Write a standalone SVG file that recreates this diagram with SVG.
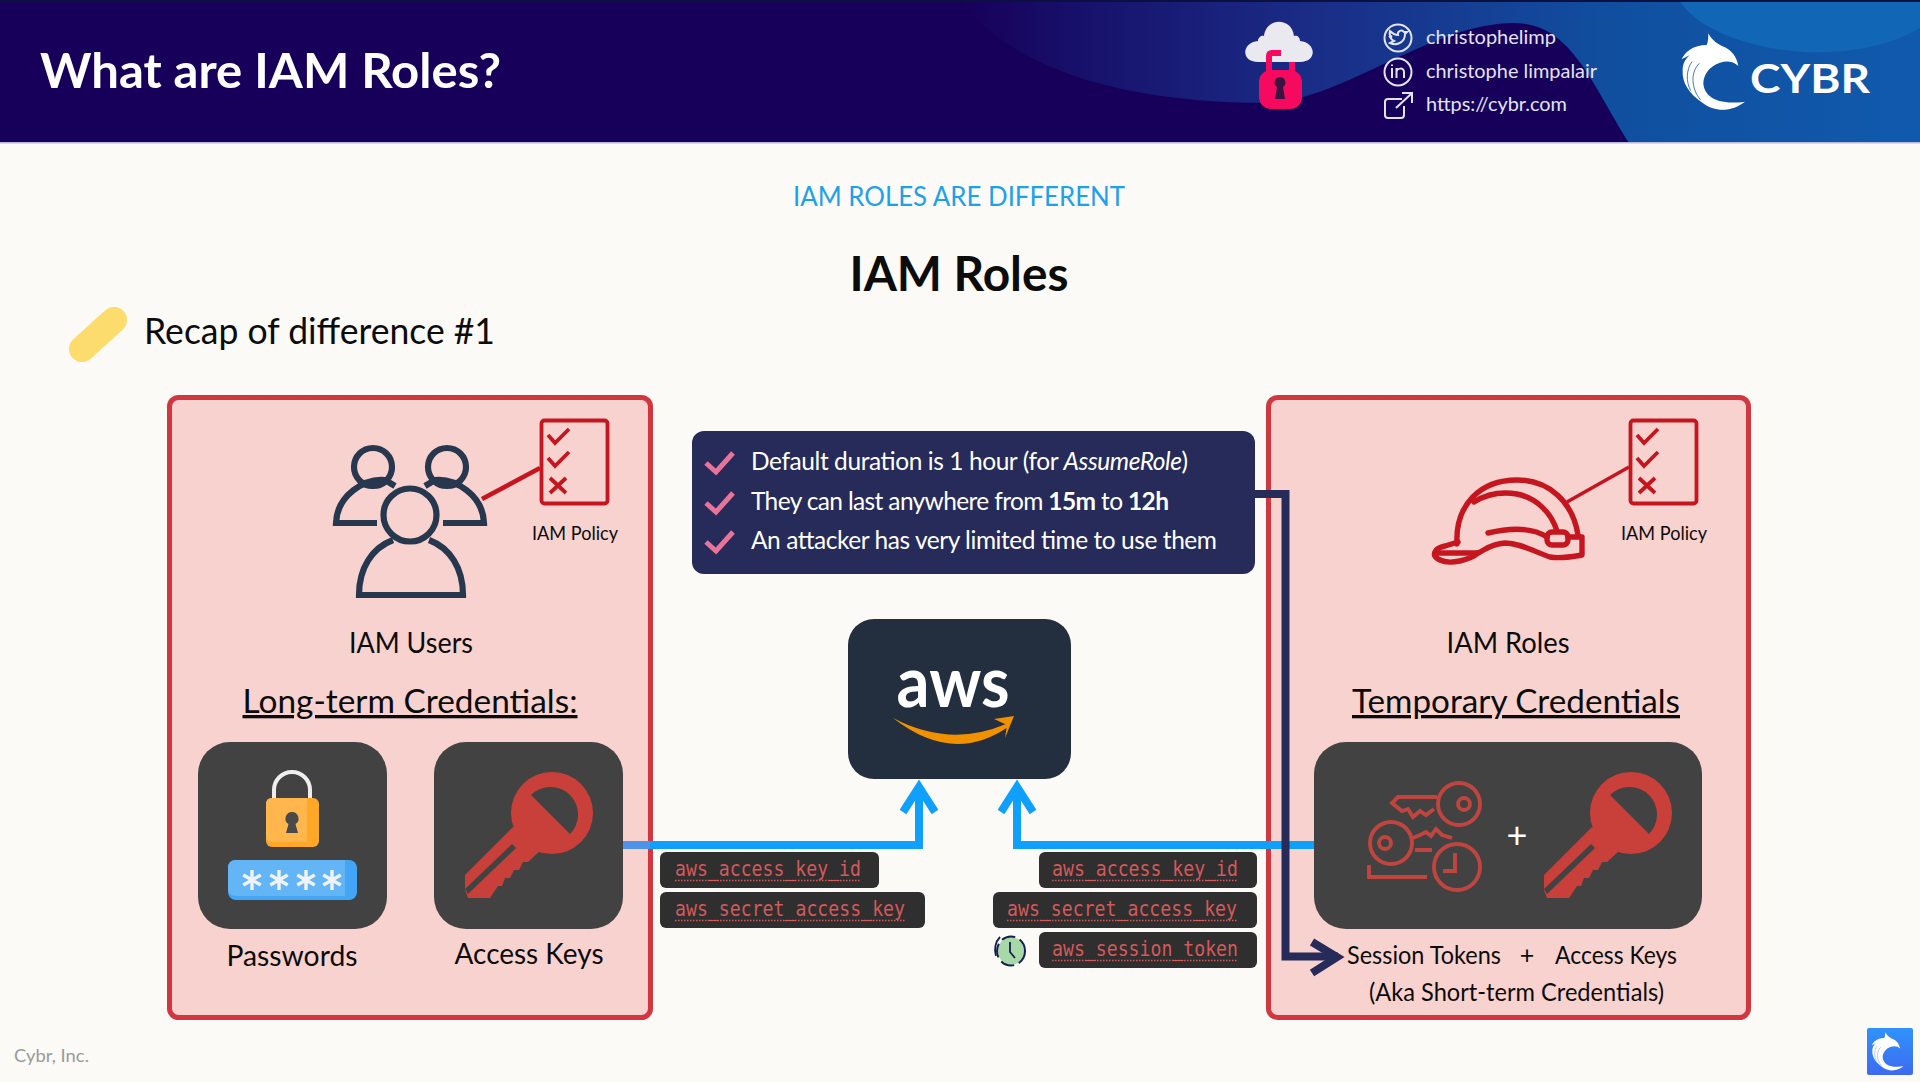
<svg xmlns="http://www.w3.org/2000/svg" width="1920" height="1082" viewBox="0 0 1920 1082">
<style>
text{font-family:"Lato","Noto Sans",sans-serif;fill:#0c0c0c}
.panel{fill:#f7d2ce;stroke:#d2363f;stroke-width:5}
.dark{fill:#424242}
.chip{fill:#2f2f2f}
.tok{font-family:"DejaVu Sans Mono","Liberation Mono",monospace;font-size:21px;fill:#d4595b}
.dots{fill:none;stroke:#d4595b;stroke-width:1.500;stroke-dasharray:1.500 1.500}
.pol{fill:none;stroke:#c5161f;stroke-width:3.800}
.ptick{fill:none;stroke:#c5161f;stroke-width:3.800}
.usr{fill:none;stroke:#27384e;stroke-width:6.200}
.hat{fill:none;stroke:#c5161f;stroke-width:5.400;stroke-linejoin:round;stroke-linecap:round}
.mk{fill:none;stroke:#c0453f;stroke-width:3.900}
.pc{fill:none;stroke:#e8749a;stroke-width:5}
.info{fill:#fff;font-size:24.500px}
.soc{fill:#e2e3f4;font-size:20px}
.ico{fill:none;stroke:#e2e3f4;stroke-width:2}
.blue{fill:none;stroke:#0ea0fb;stroke-width:8}
.navy{fill:none;stroke:#262b5a;stroke-width:8}
.u{text-decoration:underline}
</style>
<defs>
<linearGradient id="hg" x1="960" x2="1920" y1="0" y2="0" gradientUnits="userSpaceOnUse"><stop offset="0" stop-color="#17005a"/><stop offset=".12" stop-color="#17106a"/><stop offset=".36" stop-color="#1a2c86"/><stop offset=".68" stop-color="#104f9f"/><stop offset="1" stop-color="#105aad"/></linearGradient>
<linearGradient id="fg" x1="0" x2="0" y1="0" y2="1"><stop offset="0" stop-color="#2f93fb"/><stop offset="1" stop-color="#3d6af0"/></linearGradient>
<g id="ticks"><path class="ptick" d="M548 435L555 443L569 429M548 458L555 466L569 452M550 478L566 493M566 478L550 493"/></g>
<g id="bigkey">
<circle cx="552" cy="813" r="41" fill="#c9403a"/>
<path fill="#c9403a" d="M513 827L465 875V890L468 898H490L498 886H502L505 878H510L514 870H519L523 862H528L540 851Z"/>
<path class="dark" d="M531 795A27 27 0 0 1 570 834Z"/>
<path class="dark" d="M512 844L516 848L468 894L465 889Z"/>
</g>
<g id="phoenix" transform="translate(1670 20) scale(.3333)">
<path fill="#fff" d="M115 40C125 60 145 75 165 82C185 92 200 110 205 138C190 124 170 122 150 128C118 138 100 165 100 190C102 225 135 258 225 245C190 272 140 282 95 247C60 222 35 190 38 150C38 132 45 117 60 105L35 118C45 95 70 75 110 75C115 65 115 50 115 40Z"/>
<path fill="none" stroke="currentColor" stroke-width="2.400" d="M88 130C62 155 62 205 92 240M66 125C48 150 48 185 62 212"/>
</g>
<g id="star"><path stroke="#f0f3f7" stroke-width="3.400" fill="none" d="M0 -10V10M-8.700 -5L8.700 5M-8.700 5L8.700 -5"/></g>
</defs>

<rect id="page" width="1920" height="1082" fill="#fbfaf6"/>

<g id="header">
<rect width="1920" height="143" fill="url(#hg)"/>
<path fill="#17005a" d="M0 0H960C1020 80 1150 103 1264 103C1340 103 1430 23 1514 23C1570 23 1590 80 1629 143H0Z"/>
<path fill="#1166b6" d="M1679 0C1700 35 1770 55 1830 52C1870 50 1900 40 1920 28V0Z"/>
<rect width="1920" height="2" fill="#0c1040"/>
<rect y="142" width="1920" height="1.500" fill="#b9b8d6"/>
<text x="40" y="88" font-size="48" font-weight="700" style="fill:#fff" textLength="461" lengthAdjust="spacingAndGlyphs">What are IAM Roles?</text>
<g id="cloud-lock">
<path fill="#e9e9ef" d="M1258 62C1240 62 1242 42 1258 41C1258 37 1262 35 1264 36C1266 17 1292 17 1294 36C1297 35 1300 37 1300 41C1316 42 1318 62 1300 62Z"/>
<path fill="none" stroke="#f50a5f" stroke-width="6" d="M1269 75V56Q1269 53 1272 53H1281M1292 62V75"/>
<rect x="1259" y="70" width="43" height="39" rx="12" fill="#f50a5f"/>
<path fill="#3a1440" d="M1280 77a5.500 5.500 0 0 1 3 10l2 12h-10l2 -12a5.500 5.500 0 0 1 3 -10Z"/>
</g>
<g id="social">
<circle class="ico" cx="1398" cy="38" r="13.500"/>
<path class="ico" stroke-width="1.600" d="M1390 43C1396 46 1405 43 1405 34L1407 32L1404 32C1402 29 1397 31 1398 35C1395 35 1392 33 1390 31C1389 34 1390 36 1392 37L1390 37C1391 39 1392 40 1394 41Z"/>
<text class="soc" x="1426" y="44" textLength="130" lengthAdjust="spacingAndGlyphs">christophelimp</text>
<circle class="ico" cx="1398" cy="72" r="13.500"/>
<path class="ico" stroke-width="2.600" d="M1392 68V78M1392 64.500V66M1396.500 78V68M1396.500 72C1396.500 68 1404 67 1404 72V78"/>
<text class="soc" x="1426" y="78" textLength="171" lengthAdjust="spacingAndGlyphs">christophe limpalair</text>
<path class="ico" d="M1402 99H1388Q1385 99 1385 102V115Q1385 118 1388 118H1401Q1404 118 1404 115V106M1396 108L1411 94M1402 93H1412V103"/>
<text class="soc" x="1426" y="111" textLength="141" lengthAdjust="spacingAndGlyphs">https://cybr.com</text>
</g>
<g id="logo" color="#1058aa">
<use href="#phoenix"/>
<text x="1750" y="93" font-size="40" font-weight="700" style="fill:#fff" textLength="120" lengthAdjust="spacingAndGlyphs">CYBR</text>
</g>
</g>

<text id="kicker" x="959" y="205.500" text-anchor="middle" font-size="26" style="fill:#1ea1ea" textLength="332" lengthAdjust="spacingAndGlyphs">IAM ROLES ARE DIFFERENT</text>
<text id="title" x="959" y="291" text-anchor="middle" font-size="48" font-weight="700" textLength="219" lengthAdjust="spacingAndGlyphs">IAM Roles</text>
<g id="recap">
<path d="M82 349L114 320" stroke="#fddc6e" stroke-width="26" stroke-linecap="round"/>
<text x="144" y="344" font-size="36" textLength="351" lengthAdjust="spacingAndGlyphs">Recap of difference #1</text>
</g>

<g id="users-panel">
<rect class="panel" x="169.500" y="397.500" width="481" height="620" rx="9"/>
<g id="users-icon">
<circle class="usr" cx="373" cy="467" r="19"/><circle class="usr" cx="447" cy="467" r="19"/>
<path class="usr" d="M395 486L385 480C365 478 337 495 336 523H377M425 486L435 480C455 478 483 495 484 523H443"/>
<circle class="usr" cx="410" cy="515" r="26.500"/>
<path class="usr" d="M393 540C372 548 359 568 359 595H463C463 568 450 548 429 540"/>
</g>
<g id="users-policy">
<rect class="pol" x="541.500" y="420.500" width="66" height="83" rx="3"/>
<use href="#ticks"/>
<path d="M482 499L540 468" stroke="#c5161f" stroke-width="4.600"/>
<text x="575" y="540" text-anchor="middle" font-size="19" textLength="86" lengthAdjust="spacingAndGlyphs">IAM Policy</text>
</g>
<text x="411" y="653" text-anchor="middle" font-size="29" textLength="124" lengthAdjust="spacingAndGlyphs">IAM Users</text>
<text class="u" x="410" y="713" text-anchor="middle" font-size="33" textLength="335" lengthAdjust="spacingAndGlyphs">Long-term Credentials:</text>
<g id="passwords">
<rect class="dark" x="198" y="742" width="189" height="187" rx="32"/>
<path fill="none" stroke="#eeeeee" stroke-width="4" d="M274 798V790A18 18 0 0 1 310 790V798"/>
<rect x="266" y="798" width="53" height="49" rx="6" fill="#ffa726"/>
<path fill="#ffb74d" d="M272 798H307V842H272Q266 842 266 836V804Q266 798 272 798Z"/>
<path fill="#4a4a4a" d="M292 812a6.500 6.500 0 0 1 3.500 12l2.500 9h-12l2.500 -9a6.500 6.500 0 0 1 3.500 -12Z"/>
<rect x="228" y="860" width="129" height="40" rx="8" fill="#42a5f5"/>
<path fill="#64b5f6" d="M236 860H345V896H236Q228 896 228 888V868Q228 860 236 860Z"/>
<use href="#star" x="252" y="880"/><use href="#star" x="279" y="880"/><use href="#star" x="306" y="880"/><use href="#star" x="332" y="880"/>
<text x="292" y="965.500" text-anchor="middle" font-size="29" textLength="131" lengthAdjust="spacingAndGlyphs">Passwords</text>
</g>
<g id="access-keys">
<rect class="dark" x="434" y="742" width="189" height="187" rx="32"/>
<use href="#bigkey"/>
<text x="529" y="964" text-anchor="middle" font-size="29" textLength="149" lengthAdjust="spacingAndGlyphs">Access Keys</text>
</g>
</g>

<g id="roles-panel">
<rect class="panel" x="1268.500" y="397.500" width="480" height="620" rx="9"/>
<g id="hat-icon">
<path class="hat" d="M1457 544C1455 505 1480 480 1517 480C1550 480 1573 503 1578 535"/>
<path class="hat" d="M1474 502C1490 492 1505 492 1517 494C1536 498 1551 512 1557 531"/>
<path class="hat" d="M1488 533C1505 529 1530 526 1547 537"/>
<rect class="hat" x="1547" y="532" width="21" height="13" rx="5"/>
<path class="hat" d="M1568 537H1582V555C1570 557 1560 559 1550 557C1535 552 1520 543 1505 543C1490 544 1485 550 1478 553C1470 560 1450 565 1440 560C1430 555 1435 548 1445 546L1458 542"/>
<path class="hat" stroke-width="3" d="M1438 553H1478"/>
</g>
<g id="roles-policy">
<rect class="pol" x="1630.500" y="420.500" width="66" height="83" rx="3"/>
<use href="#ticks" x="1089"/>
<path d="M1567 502L1629 467" stroke="#c5161f" stroke-width="3.600"/>
<text x="1664" y="540" text-anchor="middle" font-size="19" textLength="86" lengthAdjust="spacingAndGlyphs">IAM Policy</text>
</g>
<text x="1508" y="653" text-anchor="middle" font-size="29" textLength="123" lengthAdjust="spacingAndGlyphs">IAM Roles</text>
<text class="u" x="1516" y="713" text-anchor="middle" font-size="33" textLength="328" lengthAdjust="spacingAndGlyphs">Temporary Credentials</text>
<g id="temp-creds">
<rect class="dark" x="1314" y="742" width="388" height="187" rx="32"/>
<g id="token-icon">
<circle class="mk" cx="1459" cy="804" r="21"/><circle class="mk" cx="1464" cy="804" r="6"/>
<path class="mk" d="M1437 797H1398L1392 803L1402 811L1408 809L1413 817L1420 811L1426 815L1434 809"/>
<circle class="mk" cx="1391" cy="843" r="21"/><circle class="mk" cx="1385" cy="843" r="6"/>
<path class="mk" d="M1413 838L1420 835L1426 832L1431 836L1436 829L1442 835L1452 838M1415 850H1432"/>
<circle class="mk" cx="1457" cy="867" r="23"/>
<path class="mk" d="M1455 853V871H1443M1369 865V877H1427"/>
</g>
<text x="1517" y="848" text-anchor="middle" font-size="36" style="fill:#fff">+</text>
<use href="#bigkey" x="1079"/>
</g>
<text x="1347" y="963.500" font-size="25" textLength="154" lengthAdjust="spacingAndGlyphs">Session Tokens</text>
<text x="1527" y="963.500" text-anchor="middle" font-size="25">+</text>
<text x="1555" y="963.500" font-size="25" textLength="122" lengthAdjust="spacingAndGlyphs">Access Keys</text>
<text x="1369" y="1001" font-size="25" textLength="295" lengthAdjust="spacingAndGlyphs">(Aka Short-term Credentials)</text>
</g>

<g id="aws">
<rect x="848" y="619" width="223" height="160" rx="26" fill="#232f3e"/>
<text x="953" y="707" text-anchor="middle" font-size="70" font-weight="700" style="fill:#fff" textLength="113" lengthAdjust="spacingAndGlyphs">aws</text>
<path fill="#f29100" d="M893 718Q950 748 1006 724L1008 727Q953 765 893 718ZM994 719L1014 716L1005 738L1007 725Z"/>
</g>

<g id="connectors">
<path fill="none" stroke="#4f93e9" stroke-width="8" d="M623 845H650"/>
<path class="blue" d="M650 845H919V787"/>
<path class="blue" d="M903 812L919 787L935 812"/>
<path class="blue" d="M1314 845H1017V787"/>
<path class="blue" d="M1001 812L1017 787L1033 812"/>
<path class="navy" d="M1255 494H1285.500V956.500H1338"/>
<path class="navy" stroke-width="9" d="M1312 942L1337 957L1312 973"/>
</g>

<g id="info">
<rect x="692" y="431" width="563" height="143" rx="12" fill="#262b5a"/>
<path class="pc" d="M706 463L716 472L733 453M706 503L716 512L733 493M706 542L716 551L733 532"/>
<text class="info" x="751" y="469.500" textLength="437">Default duration is 1 hour (for <tspan font-style="italic" style="fill:#fff">AssumeRole</tspan>)</text>
<text class="info" x="751" y="510" textLength="418">They can last anywhere from <tspan font-weight="700" style="fill:#fff">15m</tspan> to <tspan font-weight="700" style="fill:#fff">12h</tspan></text>
<text class="info" x="751" y="549" textLength="466">An attacker has very limited time to use them</text>
</g>

<g id="tokens-left">
<rect class="chip" x="660" y="852" width="219" height="36" rx="6"/><text class="tok" x="675" y="876" textLength="186" lengthAdjust="spacingAndGlyphs">aws_access_key_id</text>
<path class="dots" d="M675 880.500H861"/>
<rect class="chip" x="660" y="892" width="265" height="36" rx="6"/><text class="tok" x="675" y="916" textLength="230" lengthAdjust="spacingAndGlyphs">aws_secret_access_key</text>
<path class="dots" d="M675 920.500H905"/>
</g>
<g id="tokens-right">
<rect class="chip" x="1039" y="852" width="218" height="36" rx="6"/><text class="tok" x="1052" y="876" textLength="186" lengthAdjust="spacingAndGlyphs">aws_access_key_id</text>
<path class="dots" d="M1052 880.500H1238"/>
<rect class="chip" x="993" y="892" width="264" height="36" rx="6"/><text class="tok" x="1007" y="916" textLength="230" lengthAdjust="spacingAndGlyphs">aws_secret_access_key</text>
<path class="dots" d="M1007 920.500H1237"/>
<rect class="chip" x="1039" y="932" width="218" height="36" rx="6"/><text class="tok" x="1052" y="956" textLength="186" lengthAdjust="spacingAndGlyphs">aws_session_token</text>
<path class="dots" d="M1052 960.500H1238"/>
<g id="clock">
<ellipse cx="1011" cy="951" rx="13" ry="14" fill="#a8d8a8"/>
<ellipse cx="1011" cy="951" rx="14" ry="14.500" fill="none" stroke="#14204e" stroke-width="2" stroke-dasharray="14 5"/>
<path fill="none" stroke="#14204e" stroke-width="1.800" d="M1000 937C995 942 994 950 996 956M1010 942V952L1015 958"/>
</g>
</g>

<text id="footer" x="14" y="1062" font-size="18" style="fill:#9a9a9a" textLength="75" lengthAdjust="spacingAndGlyphs">Cybr, Inc.</text>
<g id="corner-logo" color="#3080f8">
<rect x="1867" y="1028" width="46" height="47" rx="2" fill="url(#fg)"/>
<use href="#phoenix" transform="translate(1031 1015.500) scale(.5)"/>
</g>
</svg>
